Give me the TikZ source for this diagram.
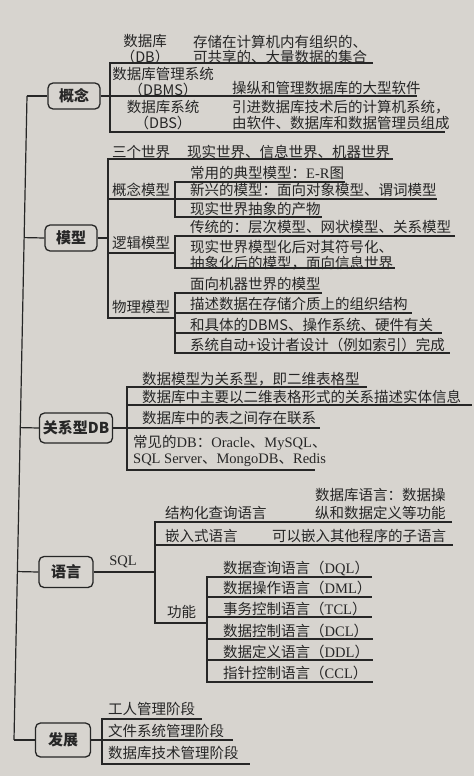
\documentclass[tikz,border=0pt]{standalone}
\usepackage{fontspec}
\usetikzlibrary{calc}
\setmainfont{Noto Sans CJK SC}
\newfontfamily\lat{Liberation Serif}
\definecolor{paper}{HTML}{D7D4CF}
\definecolor{ink}{HTML}{262626}
\begin{document}
\begin{tikzpicture}[x=1pt,y=-1pt,
  txt/.style={anchor=west,inner sep=0pt,font=\fontsize{14.5}{16}\selectfont,text=ink,align=left},
  ctxt/.style={anchor=center,inner sep=0pt,font=\fontsize{14.5}{16}\selectfont,text=ink,align=center},
  box/.style={draw=ink,line width=1.3pt,rounded corners=5pt,fill=paper,inner sep=0pt,font=\bfseries\fontsize{15}{16}\selectfont,text=ink},
  ln/.style={draw=ink,line width=1.2pt}]
\fill[paper] (0,0) rectangle (474,776);
\useasboundingbox (0,0) rectangle (474,776);

% trunk
\coordinate (t1) at (27,96);
\coordinate (t5) at (14,740);
\draw[ln] (t1) -- (t5);

% boxes
\node[box,minimum width=52pt,minimum height=26pt] (bA) at (74,96) {概念};
\node[box,minimum width=52pt,minimum height=26pt] (bB) at (71,238) {模型};
\node[box,minimum width=73pt,minimum height=30pt] (bC) at (76,428) {关系型DB};
\node[box,minimum width=54pt,minimum height=31pt] (bD) at (66,572) {语言};
\node[box,minimum width=55pt,minimum height=34pt] (bE) at (63,740) {发展};
\draw[ln] (t1) -- (bA.west);
\draw[ln] ($(t1)!(bB.west)!(t5)$) -- (bB.west);
\draw[ln] ($(t1)!(bC.west)!(t5)$) -- (bC.west);
\draw[ln] ($(t1)!(bD.west)!(t5)$) -- (bD.west);
\draw[ln] (t5) -- (bE.west);

% ---- 概念
\node[ctxt] (a1) at (145,49.5) {数据库\\（DB）};
\node[txt,font=\fontsize{14.5}{15.5}\selectfont] (a1d) at (193,49.5) {存储在计算机内有组织的、\\可共享的、大量数据的集合};
\node[ctxt] (a2) at (163,82) {数据库管理系统\\（DBMS）};
\node[txt] (a2d) at (232,88) {操纵和管理数据库的大型软件};
\node[ctxt] (a3) at (163,115) {数据库系统\\（DBS）};
\node[txt] (a3d) at (232,115) {引进数据库技术后的计算机系统，\\由软件、数据库和数据管理员组成};
\draw[ln] (bA.east) -- (110,96);
\draw[ln] (373,63) -- (110,63) -- (110,132) -- (445,132);
\draw[ln] (110,96) -- (417,96);

% ---- 模型
\draw[ln] (bB.east) -- (108,238);
\draw[ln] (393,159) -- (108,159) -- (108,318) -- (175,318);
\node[txt] (b0) at (112,152) {三个世界};
\node[txt] (b0d) at (187,152) {现实世界、信息世界、机器世界};
\node[txt] (b1) at (112,190) {概念模型};
\draw[ln] (108,199) -- (175,199);
\draw[ln] (345,182) -- (175,182) -- (175,217) -- (322,217);
\draw[ln] (175,199) -- (437,199);
\node[txt] (b11) at (190,173) {常用的典型模型：{\lat E-R}图};
\node[txt] (b12) at (190,190) {新兴的模型：面向对象模型、谓词模型};
\node[txt] (b13) at (190,209) {现实世界抽象的产物};
\node[txt] (b2) at (112,243) {逻辑模型};
\draw[ln] (108,253) -- (175,253);
\draw[ln] (455,236) -- (175,236) -- (175,268) -- (395,268);
\node[txt] (b21) at (190,227) {传统的：层次模型、网状模型、关系模型};
\node[txt] (b22) at (190,255) {现实世界模型化后对其符号化、\\抽象化后的模型，面向信息世界};
\node[txt] (b3) at (112,307) {物理模型};
\draw[ln] (322,293) -- (175,293) -- (175,353) -- (450,353);
\draw[ln] (175,313) -- (412,313);
\draw[ln] (175,333) -- (442,333);
\node[txt] (b31) at (190,284) {面向机器世界的模型};
\node[txt] (b32) at (190,304) {描述数据在存储介质上的组织结构};
\node[txt] (b33) at (190,325) {和具体的DBMS、操作系统、硬件有关};
\node[txt] (b34) at (190,345) {系统自动+设计者设计（例如索引）完成};

% ---- 关系型DB
\draw[ln] (bC.east) -- (127,428);
\draw[ln] (367,387) -- (127,387) -- (127,470) -- (315,470);
\draw[ln] (127,405) -- (472,405);
\draw[ln] (127,428) -- (320,428);
\node[txt] (c1) at (142,379) {数据模型为关系型，即二维表格型};
\node[txt] (c2) at (142,397) {数据库中主要以二维表格形式的关系描述实体信息};
\node[txt] (c3) at (142,418) {数据库中的表之间存在联系};
\node[txt] (c4) at (133,451) {常见的{\lat DB}：{\lat Oracle}、{\lat MySQL}、\\{\lat SQL Server}、{\lat MongoDB}、{\lat Redis}};

% ---- 语言
\draw[ln] (bD.east) -- (155,572);
\node[ctxt,anchor=south] (sql) at (123,568) {\lat SQL};
\draw[ln] (452,522) -- (155,522) -- (155,623) -- (207,623);
\draw[ln] (155,545) -- (453,545);
\node[txt] (d1) at (165,513) {结构化查询语言};
\node[txt,font=\fontsize{14.5}{18}\selectfont] (d1d) at (315,504) {数据库语言：数据操\\纵和数据定义等功能};
\node[txt] (d2) at (165,536) {嵌入式语言};
\node[txt] (d2d) at (272,536) {可以嵌入其他程序的子语言};
\node[txt] (d3) at (167,612) {功能};
\draw[ln] (372,577) -- (207,577) -- (207,682) -- (373,682);
\draw[ln] (207,597) -- (372,597);
\draw[ln] (207,617) -- (372,617);
\draw[ln] (207,639) -- (373,639);
\draw[ln] (207,660) -- (373,660);
\node[txt] (d31) at (223,568) {数据查询语言（{\lat DQL}）};
\node[txt] (d32) at (223,588) {数据操作语言（{\lat DML}）};
\node[txt] (d33) at (223,609) {事务控制语言（{\lat TCL}）};
\node[txt] (d34) at (223,631) {数据控制语言（{\lat DCL}）};
\node[txt] (d35) at (223,652) {数据定义语言（{\lat DDL}）};
\node[txt] (d36) at (223,673) {指针控制语言（{\lat CCL}）};

% ---- 发展
\draw[ln] (bE.east) -- (102,740);
\draw[ln] (202,719) -- (102,719) -- (102,764) -- (250,764);
\draw[ln] (102,740) -- (233,740);
\node[txt] (e1) at (108,709) {工人管理阶段};
\node[txt] (e2) at (108,731) {文件系统管理阶段};
\node[txt] (e3) at (108,753) {数据库技术管理阶段};
\end{tikzpicture}
\end{document}
